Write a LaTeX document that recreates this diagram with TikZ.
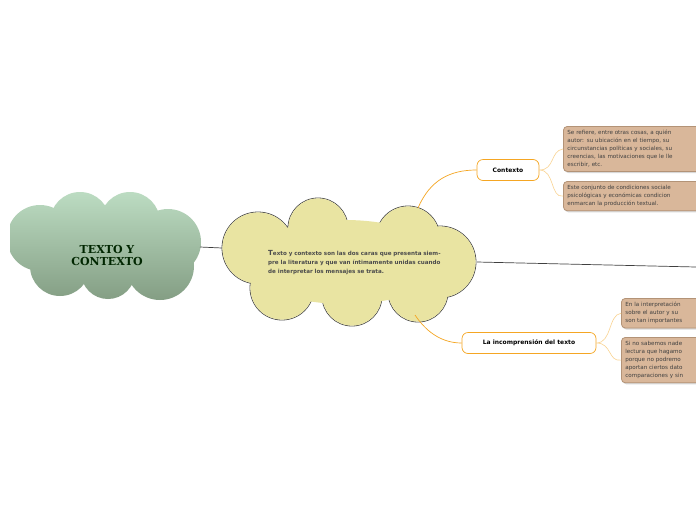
\documentclass[tikz,border=0pt]{standalone}
\usepackage{fontspec}
\setmainfont{DejaVu Sans}
\newfontfamily\titlefont{DejaVu Serif}
\usetikzlibrary{shadows}
\definecolor{orl}{HTML}{F5A623}
\definecolor{brf}{HTML}{D9B79A}
\definecolor{brd}{HTML}{B39377}
\definecolor{yel}{HTML}{E9E4A2}
\definecolor{gtop}{HTML}{BCDCC2}
\definecolor{gbot}{HTML}{849E84}
\tikzset{
 note/.style={draw=brd,fill=brf,rounded corners=4pt,line width=0.8pt,drop shadow={opacity=0.3,shadow xshift=1pt,shadow yshift=-1.5pt},
  text width=#1,align=left,font=\fontsize{5.6}{8}\selectfont,text=black!75,inner sep=4pt,anchor=north west},
 topic/.style={draw=orl,fill=white,rounded corners=6pt,line width=0.7pt,font=\bfseries\fontsize{6}{7}\selectfont,minimum height=21pt},
 conn/.style={orl,line width=0.7pt},
 lite/.style={orl!50,line width=0.6pt},
}
\begin{document}
\begin{tikzpicture}[x=1pt,y=-1pt]
\useasboundingbox (0,0) rectangle (696,520);
\fill[white] (0,0) rectangle (696,520);
% green cloud
\begin{scope}
\clip (10,190) rectangle (205,305);
\shade[top color=gtop,bottom color=gbot]
 (80,222) circle (30) (130,222) circle (30) (40,238) circle (33) (168,242) circle (33)
 (60,266) circle (30) (108,272) circle (27) (160,266) circle (34) (103,247) ellipse (70 and 30);
\end{scope}
\node[font=\titlefont\bfseries\fontsize{11}{12}\selectfont,text=black!85!green,align=center] (title) at (107,255) {TEXTO Y\\CONTEXTO};
\coordinate (tR) at (200,247);
% yellow cloud
\begin{scope}[draw=black!70,line width=0.8pt]
\draw (318,228) circle (30) (408,238) circle (32) (440,262) circle (36) (418,292) circle (30)
 (352,296) circle (30) (282,288) circle (32) (258,248) circle (36);
\fill[yel] (318,228) circle (29.6) (408,238) circle (31.6) (440,262) circle (35.6) (418,292) circle (29.6)
 (352,296) circle (29.6) (282,288) circle (31.6) (258,248) circle (35.6) (345,262) ellipse (100 and 42);
\end{scope}
\node[anchor=north west,text width=175pt,align=left,font=\bfseries\fontsize{5.6}{9}\selectfont,text=black!70,inner sep=0] (main) at (268,250)
 {{\fontsize{7}{9}\selectfont T}exto y contexto son las dos caras que presenta siempre la literatura y que van íntimamente unidas cuando de interpretar los mensajes se trata.};
\coordinate (mL) at (222,248);
\coordinate (mR) at (477,262);
\coordinate (mT) at (418,208);
\coordinate (mB) at (415,315);
\coordinate (edge) at (696,267);
\draw[black!75,line width=0.7pt] (tR) -- (mL);
\draw[black!75,line width=0.7pt] (mR) -- (edge);
% topics
\node[topic,minimum width=62pt] (ctx) at (508,170) {Contexto};
\node[topic,minimum width=134pt] (inc) at (529,343) {La incomprensión del texto};
\draw[conn] (mT) .. controls (430,180) and (450,170) .. (ctx.west);
\draw[conn] (mB) .. controls (425,330) and (440,343) .. (inc.west);
% notes
\node[note=150pt] (n1) at (563,126) {Se refiere, entre otras cosas, a quién\\autor: su ubicación en el tiempo, su\\circunstancias políticas y sociales, su\\creencias, las motivaciones que le lle\\escribir, etc.};
\node[note=150pt] (n2) at (563,181) {Este conjunto de condiciones sociale\\psicológicas y económicas condicion\\enmarcan la producción textual.};
\node[note=100pt] (n3) at (621,298) {En la interpretación\\sobre el autor y su \\son tan importantes};
\node[note=100pt] (n4) at (621,337) {Si no sabemos nade\\lectura que hagamo\\porque no podremo\\aportan ciertos dato\\comparaciones y sin};
\draw[lite] (ctx.east) .. controls (555,170) and (550,151) .. (n1.west);
\draw[lite] (ctx.east) .. controls (555,170) and (550,198) .. (n2.west);
\draw[lite] (inc.east) .. controls (612,343) and (608,315) .. (n3.west);
\draw[lite] (inc.east) .. controls (612,343) and (608,362) .. (n4.west);
\end{tikzpicture}
\end{document}
